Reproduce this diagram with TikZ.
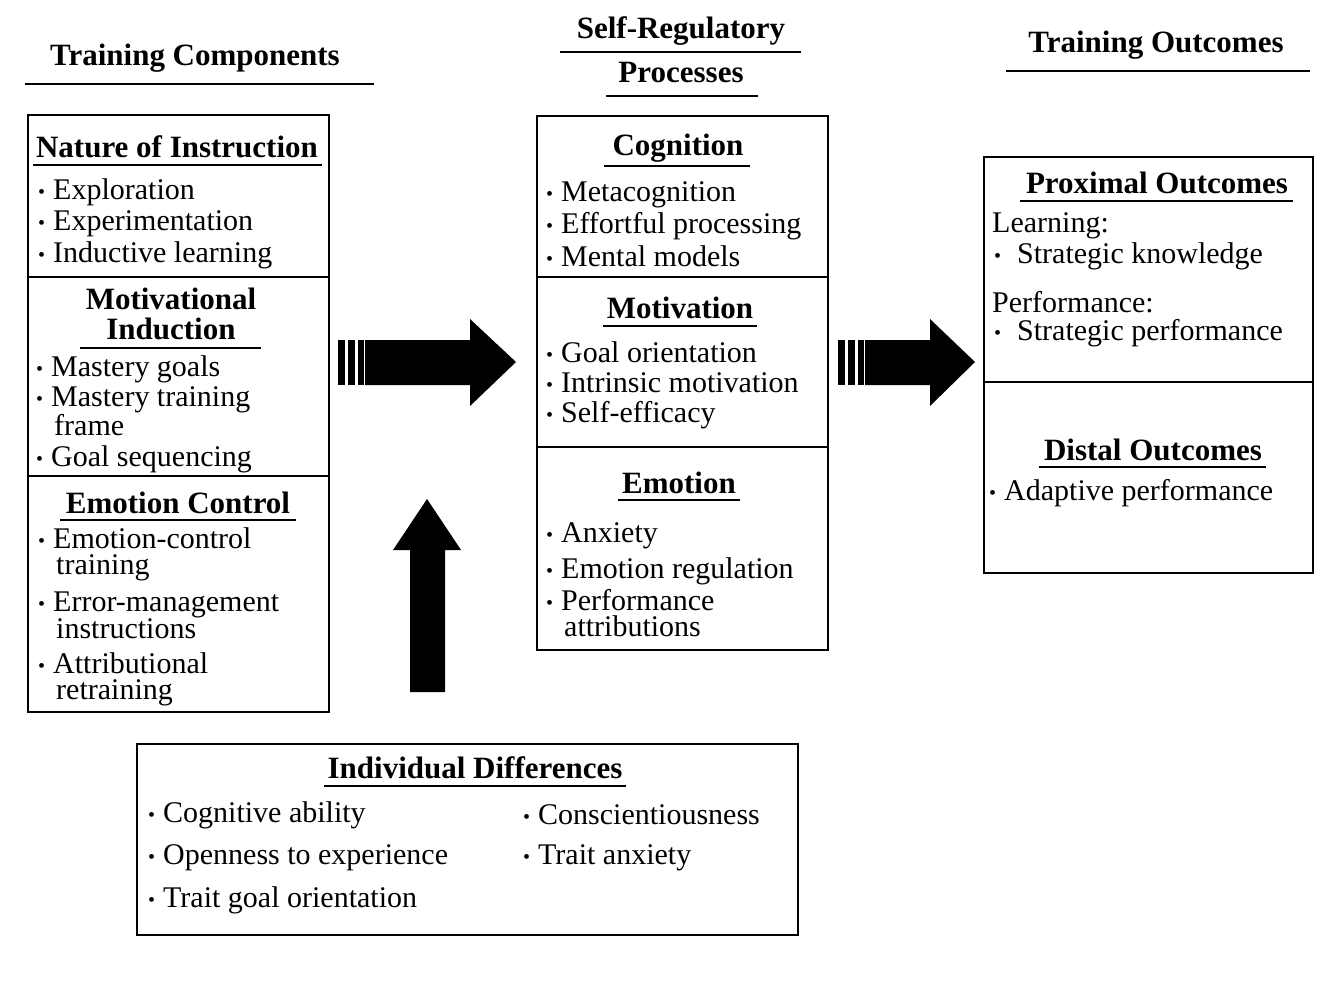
\documentclass[tikz,border=0pt]{standalone}
\usepackage{fontspec}
\setmainfont{Liberation Serif}
\newcommand{\bul}{\raisebox{1pt}{\fontsize{20}{20}\selectfont\textbullet}\hspace{8pt}}
\newcommand{\ind}{\hspace{18pt}}
\begin{document}
\begin{tikzpicture}[x=1pt,y=-1pt,
 box/.style={draw,line width=1.6pt},
 hd/.style={font=\fontsize{31}{30}\selectfont\bfseries,inner sep=0pt},
 tx/.style={font=\fontsize{30}{26}\selectfont,inner sep=0pt,anchor=west,align=left},
 ul/.style={line width=1.3pt},
 arr/.style={fill=black}]
\useasboundingbox (0,0) rectangle (1337,990);
% titles
\node[hd] (t1) at (195,58) {Training Components};
\draw[ul] (25,84) -- (374,84);
\node[hd] (t2) at (681,31) {Self-Regulatory};
\draw[ul] (560,52) -- (801,52);
\node[hd] (t3) at (681,73) {Processes};
\draw[ul] (606,96) -- (758,96);
\node[hd] (t4) at (1156,45) {Training Outcomes};
\draw[ul] (1006,71) -- (1310,71);
% left box
\draw[box] (28,115) rectangle (329,712);
\draw[box] (28,277) -- (329,277);
\draw[box] (28,476) -- (329,476);
\node[hd] (l1) at (177,147) {Nature of Instruction};
\draw[ul] (33,165) -- (322,165);
\node[tx] (l1a) at (38,224) {\bul Exploration\\[4pt]\bul Experimentation\\[4pt]\bul Inductive learning};
\node[hd,align=center] (l2) at (171,314) {Motivational\\Induction};
\draw[ul] (80,348) -- (261,348);
\node[tx] (l2a) at (36,414) {\bul Mastery goals\\[3pt]\bul Mastery training\\\ind frame\\[5pt]\bul Goal sequencing};
\node[hd] (l3) at (178,503) {Emotion Control};
\draw[ul] (60,520) -- (296,520);
\node[tx] (l3a) at (38,617) {\bul Emotion-control\\\ind training\\[9pt]\bul Error-management\\\ind instructions\\[9pt]\bul Attributional\\\ind retraining};
% middle box
\draw[box] (537,116) rectangle (828,650);
\draw[box] (537,277) -- (828,277);
\draw[box] (537,447) -- (828,447);
\node[hd] (m1) at (678,148) {Cognition};
\draw[ul] (604,166) -- (750,166);
\node[tx] (m1a) at (546,224) {\bul Metacognition\\[4pt]\bul Effortful processing\\[4pt]\bul Mental models};
\node[hd] (m2) at (680,308) {Motivation};
\draw[ul] (603,326) -- (757,326);
\node[tx] (m2a) at (546,385) {\bul Goal orientation\\[4pt]\bul Intrinsic motivation\\[4pt]\bul Self-efficacy};
\node[hd] (m3) at (679,483) {Emotion};
\draw[ul] (618,500) -- (740,500);
\node[tx] (m3a) at (546,580) {\bul Anxiety\\[7pt]\bul Emotion regulation\\[4pt]\bul Performance\\\ind attributions};
% right box
\draw[box] (984,157) rectangle (1313,573);
\draw[box] (984,382) -- (1313,382);
\node[hd] (r1) at (1157,183) {Proximal Outcomes};
\draw[ul] (1020,201) -- (1293,201);
\node[tx] (r1a) at (992,226) {Learning:};
\node[tx] (r1b) at (994,256) {\bul\hspace{8pt}Strategic knowledge};
\node[tx] (r1c) at (992,302) {Performance:};
\node[tx] (r1d) at (994,333) {\bul\hspace{8pt}Strategic performance};
\node[hd] (r2) at (1153,450) {Distal Outcomes};
\draw[ul] (1039,467) -- (1266,467);
\node[tx] (r2a) at (989,493) {\bul Adaptive performance};
% bottom box
\draw[box] (137,744) rectangle (798,935);
\node[hd] (b1) at (475,768) {Individual Differences};
\draw[ul] (324,786) -- (626,786);
\node[tx] (b1a) at (148,815) {\bul Cognitive ability};
\node[tx] (b1b) at (148,858) {\bul Openness to experience};
\node[tx] (b1c) at (148,900) {\bul Trait goal orientation};
\node[tx] (b1d) at (523,815) {\bul Conscientiousness};
\node[tx] (b1e) at (523,858) {\bul Trait anxiety};
% arrows
\foreach \x in {338,838}{
 \fill (\x,340) rectangle (\x+7,385);
 \fill (\x+10,340) rectangle (\x+17,385);
 \fill (\x+20,340) rectangle (\x+26,385);
}
\fill[arr] (365,340) -- (470,340) -- (470,319) -- (516,362) -- (470,406) -- (470,385) -- (365,385) -- cycle;
\fill[arr] (865,340) -- (930,340) -- (930,319) -- (975,362) -- (930,406) -- (930,385) -- (865,385) -- cycle;
\fill[arr] (410,692) -- (410,550) -- (393,550) -- (427,499) -- (461,550) -- (445,550) -- (445,692) -- cycle;
\end{tikzpicture}
\end{document}
